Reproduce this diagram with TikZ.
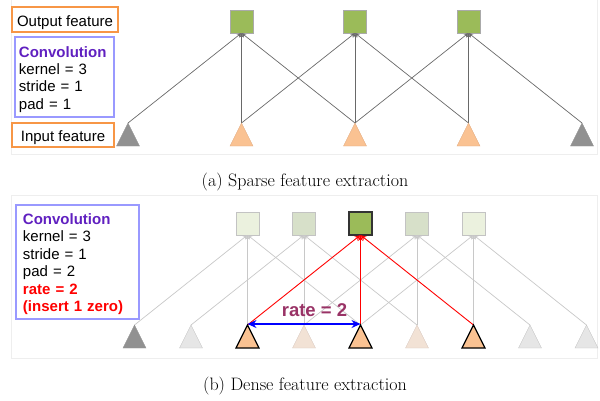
\documentclass[tikz,border=0pt]{standalone}
\usepackage{fontspec}
\newfontfamily\arialfont{Liberation Sans}
\usetikzlibrary{arrows.meta}
\definecolor{orbox}{RGB}{247,150,70}
\definecolor{lavbox}{RGB}{153,153,255}
\definecolor{convpurple}{RGB}{96,32,192}
\definecolor{sqgreen}{RGB}{155,187,89}
\definecolor{sqborder}{RGB}{170,170,170}
\definecolor{triorange}{RGB}{250,194,146}
\definecolor{triorangeb}{RGB}{225,170,125}
\definecolor{trigray}{RGB}{145,145,145}
\definecolor{trilight}{RGB}{230,230,230}
\definecolor{trilightb}{RGB}{195,195,195}
\definecolor{tripeach}{RGB}{242,226,213}
\definecolor{tripeachb}{RGB}{215,200,190}
\definecolor{sqlight}{RGB}{235,241,222}
\definecolor{sqmid}{RGB}{215,224,201}
\definecolor{plum}{RGB}{153,51,102}
\definecolor{linegray}{RGB}{105,105,105}
\definecolor{linelight}{RGB}{200,200,200}
\definecolor{panelgray}{RGB}{238,238,238}
\tikzset{
  sqbox/.style={draw=sqborder, line width=0.8pt, minimum size=23pt, inner sep=0pt, outer sep=0pt},
  txt/.style={font=\arialfont\fontsize{15}{17.4}\selectfont, inner sep=0pt, outer sep=0pt},
  conn/.style={draw=linegray, line width=0.7pt, -{Stealth[length=4.5pt,width=4pt]}},
  connlight/.style={draw=linelight, line width=0.7pt, -{Stealth[length=4.5pt,width=4pt]}},
  connred/.style={draw=red, line width=0.9pt, -{Stealth[length=6pt,width=5pt]}},
  capt/.style={font=\fontsize{18}{20}\selectfont, anchor=base, inner sep=0pt}
}
\newcommand\mytriangle[3]{\filldraw[fill=#2, draw=#3, line join=miter] (#1) -- ++(11.5,23) -- ++(-23,0) -- cycle;}
\begin{document}
\begin{tikzpicture}[x=1pt,y=-1pt]
\useasboundingbox (0,0) rectangle (600,400);
% panel frames
\draw[panelgray, line width=0.8pt] (11,0) -- (11,154) -- (597,154) -- (597,0);
\draw[panelgray, line width=0.8pt] (11,195) rectangle (597,358);

% ---------- panel (a) ----------
\node[txt, draw=orbox, line width=1.8pt, anchor=north west, minimum width=106pt,
      text height=19pt, text depth=6pt] (outlab) at (12,7) {Output feature};
\node[txt, draw=lavbox, line width=1.5pt, anchor=north west, text width=91pt, align=left,
      inner xsep=4pt, text height=20pt, text depth=60pt] (conva) at (15,37)
      {\textbf{\textcolor{convpurple}{Convolution}}\\kernel = 3\\stride = 1\\pad = 1};
\node[txt, draw=orbox, line width=1.8pt, anchor=north west, minimum width=102pt,
      text height=18.5pt, text depth=5.5pt] (inlab) at (12,123) {Input feature};

\node[sqbox, fill=sqgreen] (oa1) at (241.5,21.5) {};
\node[sqbox, fill=sqgreen] (oa2) at (355,21.5) {};
\node[sqbox, fill=sqgreen] (oa3) at (468.5,21.5) {};
\coordinate (ta0) at (128,123);
\coordinate (ta1) at (241.5,123);
\coordinate (ta2) at (355,123);
\coordinate (ta3) at (468.5,123);
\coordinate (ta4) at (582,123);
\foreach \s/\t in {1/0,1/1,1/2,2/1,2/2,2/3,3/2,3/3,3/4}
  \draw[conn] (ta\t) -- (oa\s.south);
\mytriangle{ta0}{trigray}{trigray}
\mytriangle{ta1}{triorange}{triorangeb}
\mytriangle{ta2}{triorange}{triorangeb}
\mytriangle{ta3}{triorange}{triorangeb}
\mytriangle{ta4}{trigray}{trigray}

\node[capt] (capa) at (305,186.5) {(a) Sparse feature extraction};

% ---------- panel (b) ----------
\node[txt, draw=lavbox, line width=1.5pt, anchor=north west, text width=109pt, align=left,
      inner xsep=7pt, text height=19.5pt, text depth=94.5pt] (convb) at (16,205)
      {\textbf{\textcolor{convpurple}{Convolution}}\\kernel = 3\\stride = 1\\pad = 2\\
       \textbf{\textcolor{red}{rate = 2}}\\\textbf{\textcolor{red}{(insert 1 zero)}}};

\foreach \k in {0,...,8} \coordinate (tb\k) at (134.5+56.5*\k,325);
\node[sqbox, draw=trilightb, fill=sqlight] (ob2) at (247.5,223.5) {};
\node[sqbox, draw=trilightb, fill=sqmid] (ob3) at (304,223.5) {};
\node[sqbox, draw=black!80, line width=1.5pt, fill=sqgreen] (ob4) at (360.5,223.5) {};
\node[sqbox, draw=trilightb, fill=sqmid] (ob5) at (417,223.5) {};
\node[sqbox, draw=trilightb, fill=sqlight] (ob6) at (473.5,223.5) {};
\foreach \s/\t in {2/0,2/2,2/4,3/1,3/3,3/5,5/3,5/5,5/7,6/4,6/6,6/8}
  \draw[connlight] (tb\t) -- (ob\s.south);
\foreach \t in {2,4,6}
  \draw[connred] (tb\t) -- (ob4.south);
\mytriangle{tb0}{trigray}{trigray}
\mytriangle{tb1}{trilight}{trilightb}
\filldraw[fill=triorange, draw=black, line width=1.2pt, line join=miter] (tb2) -- ++(11.5,23) -- ++(-23,0) -- cycle;
\mytriangle{tb3}{tripeach}{tripeachb}
\filldraw[fill=triorange, draw=black, line width=1.2pt, line join=miter] (tb4) -- ++(11.5,23) -- ++(-23,0) -- cycle;
\mytriangle{tb5}{tripeach}{tripeachb}
\filldraw[fill=triorange, draw=black, line width=1.2pt, line join=miter] (tb6) -- ++(11.5,23) -- ++(-23,0) -- cycle;
\mytriangle{tb7}{trilight}{trilightb}
\mytriangle{tb8}{trilight}{trilightb}

\draw[blue, line width=1.3pt, {Stealth[length=9pt,width=8pt]}-{Stealth[length=9pt,width=8pt]}]
  ([yshift=1pt]tb2) -- ([yshift=1pt]tb4);
\node[font=\arialfont\bfseries\fontsize{18.5}{20}\selectfont, text=plum, anchor=base, inner sep=0pt] (ratelab) at (314.5,316.7) {rate = 2};

\node[capt] (capb) at (305,390.5) {(b) Dense feature extraction};
\end{tikzpicture}
\end{document}
